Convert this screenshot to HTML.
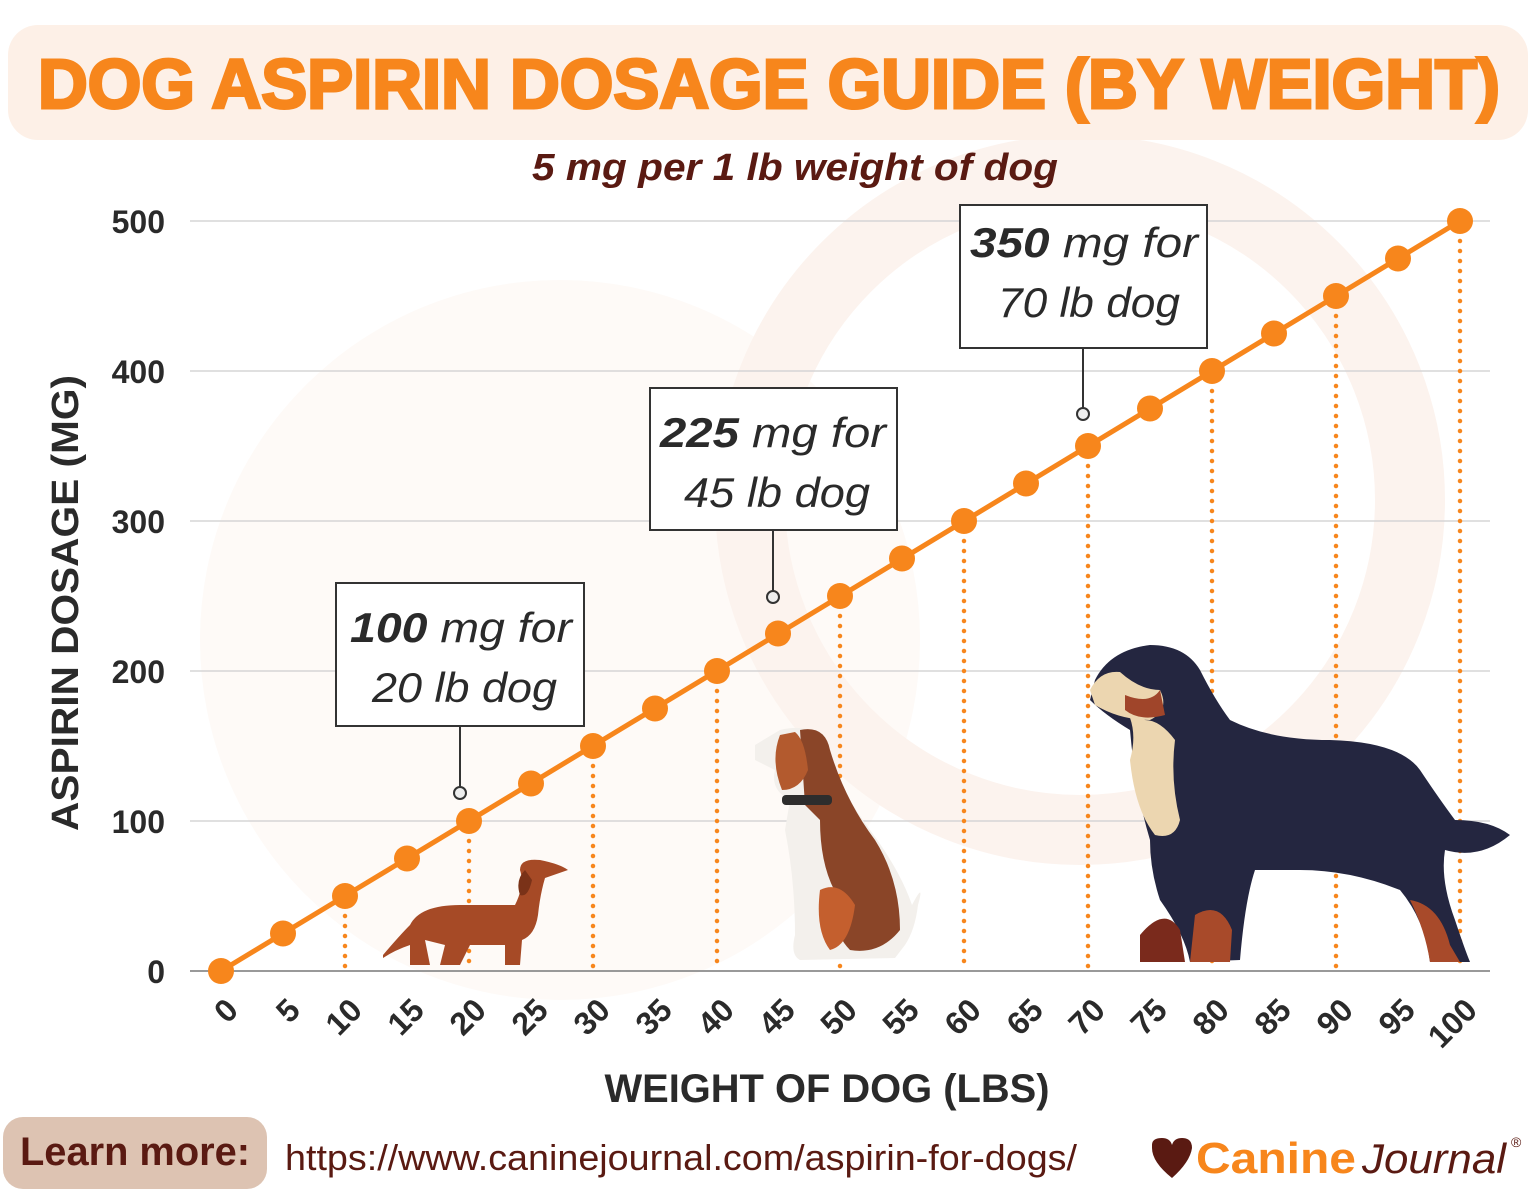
<!DOCTYPE html>
<html><head><meta charset="utf-8"><style>
html,body{margin:0;padding:0;background:#fff;}
svg{display:block;}
text{font-family:"Liberation Sans",sans-serif;}
</style></head><body>
<svg width="1536" height="1195" viewBox="0 0 1536 1195" xmlns="http://www.w3.org/2000/svg">
<rect width="1536" height="1195" fill="#fff"/>
<!-- faint background circles -->
<circle cx="560" cy="640" r="360" fill="#fefaf7"/>
<circle cx="1080" cy="500" r="330" fill="none" stroke="#fcf3ee" stroke-width="70"/>
<!-- banner -->
<rect x="8" y="25" width="1520" height="115" rx="30" fill="#fdf0e7"/>
<text x="38" y="108" font-size="70" font-weight="900" fill="#f7861c" textLength="1462" lengthAdjust="spacingAndGlyphs" stroke="#f7861c" stroke-width="3">DOG ASPIRIN DOSAGE GUIDE (BY WEIGHT)</text>
<text x="532" y="180" font-size="38" font-weight="bold" font-style="italic" fill="#5a1a12" textLength="526" lengthAdjust="spacingAndGlyphs">5 mg per 1 lb weight of dog</text>
<!-- gridlines -->
<g stroke="#d5d5d5" stroke-width="1.5">
<line x1="190" y1="221" x2="1490" y2="221"/><line x1="190" y1="371" x2="1490" y2="371"/>
<line x1="190" y1="521" x2="1490" y2="521"/><line x1="190" y1="671" x2="1490" y2="671"/>
<line x1="190" y1="821" x2="1490" y2="821"/>
</g>
<line x1="190" y1="971" x2="1490" y2="971" stroke="#999" stroke-width="2"/>
<g font-size="32" font-weight="bold" fill="#2a2a2a" text-anchor="end">
<text x="165" y="233">500</text><text x="165" y="383">400</text><text x="165" y="533">300</text>
<text x="165" y="683">200</text><text x="165" y="833">100</text><text x="165" y="983">0</text>
</g>
<text transform="translate(78,603) rotate(-90)" text-anchor="middle" font-size="38" font-weight="bold" fill="#2a2a2a" textLength="456" lengthAdjust="spacingAndGlyphs">ASPIRIN DOSAGE (MG)</text>
<text x="827" y="1102" text-anchor="middle" font-size="40" font-weight="bold" fill="#2a2a2a" textLength="445" lengthAdjust="spacingAndGlyphs">WEIGHT OF DOG (LBS)</text>
<!-- dotted verticals -->
<g stroke="#f7861c" stroke-width="4.5" stroke-linecap="round" stroke-dasharray="0 10">
<line x1="345" y1="896" x2="345" y2="968"/>
<line x1="469" y1="821" x2="469" y2="968"/>
<line x1="593" y1="746" x2="593" y2="968"/>
<line x1="717" y1="671" x2="717" y2="968"/>
<line x1="840" y1="596" x2="840" y2="968"/>
<line x1="964" y1="521" x2="964" y2="968"/>
<line x1="1088" y1="446" x2="1088" y2="968"/>
<line x1="1212" y1="371" x2="1212" y2="968"/>
<line x1="1336" y1="296" x2="1336" y2="968"/>
<line x1="1460" y1="221" x2="1460" y2="968"/>
</g>
<!-- dachshund -->
<g>
<path d="M383,955 Q400,935 410,925 Q420,905 460,905 L515,905 Q525,885 520,870 Q520,858 540,860 Q560,864 568,870 L545,878 Q540,895 538,915 Q535,935 522,940 L520,965 L505,965 L505,945 L470,945 L460,965 L440,965 L445,945 L425,940 L430,965 L410,965 L410,945 Q395,950 383,958 Z" fill="#a64a26"/>
<path d="M525,870 Q515,880 520,895 Q528,898 532,880 Z" fill="#7a3218"/>
</g>
<!-- beagle -->
<g>
<path d="M780,730 Q815,722 825,745 Q840,790 870,830 Q900,870 912,905 Q925,880 918,905 Q915,930 905,945 L895,958 L800,960 Q790,955 795,935 Q795,880 785,830 L790,800 Q770,790 775,770 L755,760 L755,745 Z" fill="#f3f0ec"/>
<path d="M800,730 Q825,725 830,750 Q845,800 875,840 Q900,880 900,930 Q880,955 850,950 Q830,930 840,900 Q820,870 820,820 L805,805 Z" fill="#8a4528"/>
<path d="M780,735 Q770,760 782,790 Q800,790 808,770 Q805,740 795,732 Z" fill="#b35a2e"/>
<path d="M820,890 Q840,880 855,905 Q850,945 830,950 Q815,930 820,890 Z" fill="#c45f2e"/>
<rect x="782" y="795" width="50" height="10" rx="4" fill="#2d2d2d"/>
</g>
<!-- bernese -->
<g>
<path d="M1095,680 Q1110,650 1150,645 Q1185,645 1200,670 Q1215,700 1230,720 Q1270,740 1330,740 Q1400,742 1420,770 Q1440,800 1455,820 Q1490,820 1510,835 Q1480,860 1445,850 Q1440,880 1455,920 Q1465,950 1470,962 L1430,962 Q1425,920 1400,890 Q1350,870 1300,870 L1255,870 Q1245,900 1240,960 L1190,962 Q1185,935 1160,900 Q1150,870 1150,840 Q1135,790 1130,730 Q1105,715 1090,700 Z" fill="#242640"/>
<path d="M1120,700 Q1140,725 1130,760 Q1135,810 1155,835 Q1175,840 1180,820 Q1170,780 1175,740 Q1160,720 1145,720 Z" fill="#ecd6b0"/>
<path d="M1090,690 Q1100,670 1120,672 Q1140,690 1160,690 Q1170,710 1150,720 Q1120,720 1095,705 Z" fill="#ecd6b0"/>
<path d="M1125,695 Q1150,705 1160,690 L1165,715 Q1140,722 1125,710 Z" fill="#a0452a"/>
<path d="M1140,935 Q1165,905 1180,930 L1185,962 L1140,962 Z" fill="#7a2a1c"/>
<path d="M1195,915 Q1220,900 1232,930 L1230,962 L1190,962 Z" fill="#a84a2a"/>
<path d="M1410,900 Q1440,905 1450,945 L1460,962 L1430,962 Q1425,930 1410,900 Z" fill="#a84a2a"/>
</g>
<!-- line and points -->
<polyline points="221,971 1460,221" stroke="#f7861c" stroke-width="5" fill="none"/>
<g fill="#f7861c">
<circle cx="221" cy="971" r="13"/><circle cx="283" cy="933.5" r="13"/><circle cx="345" cy="896" r="13"/>
<circle cx="407" cy="858.5" r="13"/><circle cx="469" cy="821" r="13"/><circle cx="531" cy="783.5" r="13"/>
<circle cx="593" cy="746" r="13"/><circle cx="655" cy="708.5" r="13"/><circle cx="717" cy="671" r="13"/>
<circle cx="778" cy="633.5" r="13"/><circle cx="840" cy="596" r="13"/><circle cx="902" cy="558.5" r="13"/>
<circle cx="964" cy="521" r="13"/><circle cx="1026" cy="483.5" r="13"/><circle cx="1088" cy="446" r="13"/>
<circle cx="1150" cy="408.5" r="13"/><circle cx="1212" cy="371" r="13"/><circle cx="1274" cy="333.5" r="13"/>
<circle cx="1336" cy="296" r="13"/><circle cx="1398" cy="258.5" r="13"/><circle cx="1460" cy="221" r="13"/>
</g>
<!-- x tick labels -->
<g font-size="32" font-weight="bold" fill="#2a2a2a" text-anchor="end">
<text transform="translate(240,1012) rotate(-45)">0</text>
<text transform="translate(302,1012) rotate(-45)">5</text>
<text transform="translate(364,1012) rotate(-45)">10</text>
<text transform="translate(426,1012) rotate(-45)">15</text>
<text transform="translate(488,1012) rotate(-45)">20</text>
<text transform="translate(550,1012) rotate(-45)">25</text>
<text transform="translate(612,1012) rotate(-45)">30</text>
<text transform="translate(674,1012) rotate(-45)">35</text>
<text transform="translate(736,1012) rotate(-45)">40</text>
<text transform="translate(797,1012) rotate(-45)">45</text>
<text transform="translate(859,1012) rotate(-45)">50</text>
<text transform="translate(921,1012) rotate(-45)">55</text>
<text transform="translate(983,1012) rotate(-45)">60</text>
<text transform="translate(1045,1012) rotate(-45)">65</text>
<text transform="translate(1107,1012) rotate(-45)">70</text>
<text transform="translate(1169,1012) rotate(-45)">75</text>
<text transform="translate(1231,1012) rotate(-45)">80</text>
<text transform="translate(1293,1012) rotate(-45)">85</text>
<text transform="translate(1355,1012) rotate(-45)">90</text>
<text transform="translate(1417,1012) rotate(-45)">95</text>
<text transform="translate(1479,1012) rotate(-45)">100</text>
</g>
<!-- callouts -->
<g fill="#fff" stroke="#333" stroke-width="2">
<rect x="336" y="583" width="248" height="143"/>
<rect x="650" y="388" width="247" height="142"/>
<rect x="960" y="205" width="247" height="143"/>
</g>
<g stroke="#333" stroke-width="2" fill="none">
<path d="M460,726 V787"/><circle cx="460" cy="793" r="6" fill="#eee"/>
<path d="M773,530 V591"/><circle cx="773" cy="597" r="6" fill="#eee"/>
<path d="M1083,348 V408"/><circle cx="1083" cy="414" r="6" fill="#eee"/>
</g>
<g font-size="42" font-style="italic" fill="#2a2a2a">
<text x="350" y="642" textLength="222" lengthAdjust="spacingAndGlyphs"><tspan font-weight="900">100</tspan> mg for</text>
<text x="372" y="702" textLength="185" lengthAdjust="spacingAndGlyphs">20 lb dog</text>
<text x="660" y="447" textLength="226" lengthAdjust="spacingAndGlyphs"><tspan font-weight="900">225</tspan> mg for</text>
<text x="684" y="507" textLength="186" lengthAdjust="spacingAndGlyphs">45 lb dog</text>
<text x="970" y="257" textLength="228" lengthAdjust="spacingAndGlyphs"><tspan font-weight="900">350</tspan> mg for</text>
<text x="998" y="317" textLength="182" lengthAdjust="spacingAndGlyphs">70 lb dog</text>
</g>
<!-- footer -->
<rect x="3" y="1117" width="264" height="72" rx="20" fill="#ddc3b2"/>
<text x="20" y="1165" font-size="40" font-weight="bold" fill="#5a1a12" textLength="230" lengthAdjust="spacingAndGlyphs">Learn more:</text>
<text x="285" y="1170" font-size="36" fill="#5a1a12" textLength="792" lengthAdjust="spacingAndGlyphs">https://www.caninejournal.com/aspirin-for-dogs/</text>
<path d="M1152,1145 Q1152,1138 1162,1138 Q1170,1138 1172,1145 Q1174,1138 1182,1138 Q1192,1138 1192,1148 Q1190,1162 1172,1178 Q1152,1162 1152,1148 Z" fill="#5a1a12"/>
<text x="1196" y="1173" font-size="44" font-weight="bold" fill="#f7861c" textLength="160" lengthAdjust="spacingAndGlyphs">Canine</text>
<text x="1362" y="1173" font-size="42" font-style="italic" font-family="Liberation Serif,serif" fill="#5a1a12" textLength="144" lengthAdjust="spacingAndGlyphs">Journal</text>
<text x="1511" y="1147" font-size="14" fill="#5a1a12">®</text>
</svg>
</body></html>
